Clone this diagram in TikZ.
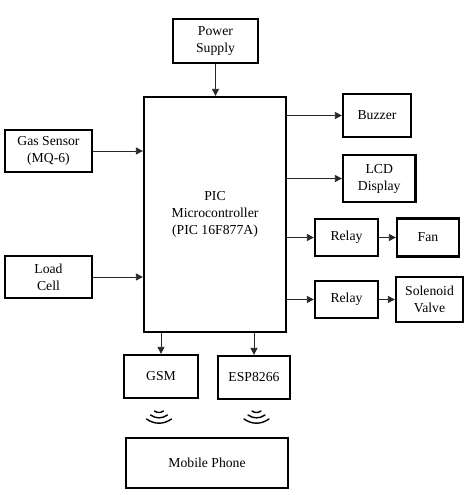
\documentclass[tikz,border=0pt]{standalone}
\usepackage{fontspec}
\setmainfont{Liberation Serif}
\usetikzlibrary{arrows.meta}

\tikzset{
	block/.style={draw,line width=1.3pt,align=center,inner sep=0pt,font=\fontsize{7.8}{9.7}\selectfont},
	conn/.style={-{Triangle[length=1.4mm,width=1.4mm]},line width=0.5pt,black!85},
	wave/.style={line width=0.8pt,line cap=round}
}

\begin{document}
\begin{tikzpicture}[x=1cm,y=1cm]
	\useasboundingbox (0,0) rectangle (9.48,9.9);

	% Controller and inputs
	\node[block,minimum width=2.84cm,minimum height=4.70cm] (pic) at (4.30,5.61) {PIC\\Microcontroller\\(PIC 16F877A)};
	\node[block,minimum width=1.70cm,minimum height=0.88cm] (power) at (4.31,9.08) {Power\\Supply};
	\node[block,minimum width=1.74cm,minimum height=0.84cm] (gas) at (0.97,6.88) {Gas Sensor\\(MQ-6)};
	\node[block,minimum width=1.74cm,minimum height=0.84cm] (load) at (0.97,4.36) {Load\\Cell};

	% Outputs
	\node[block,minimum width=1.36cm,minimum height=0.86cm] (buzzer) at (7.54,7.59) {Buzzer};
	\node[block,minimum width=1.45cm,minimum height=0.94cm] (lcd) at (7.585,6.33) {LCD\\Display};
	\node[block,minimum width=1.26cm,minimum height=0.74cm] (relayfan) at (6.93,5.15) {Relay};
	\node[block,minimum width=1.24cm,minimum height=0.76cm] (fan) at (8.56,5.15) {Fan};
	\node[block,minimum width=1.26cm,minimum height=0.74cm] (relayvalve) at (6.93,3.91) {Relay};
	\node[block,minimum width=1.34cm,minimum height=0.90cm] (valve) at (8.59,3.91) {Solenoid\\Valve};

	% Wireless part
	\node[block,minimum width=1.48cm,minimum height=0.86cm] (gsm) at (3.22,2.37) {GSM};
	\node[block,minimum width=1.44cm,minimum height=0.86cm] (esp) at (5.08,2.35) {ESP8266};
	\node[block,minimum width=3.24cm,minimum height=1.00cm] (phone) at (4.14,0.64) {Mobile Phone};

	\draw[conn] (power) -- (power |- pic.north);
	\draw[conn] (gas) -- (gas -| pic.west);
	\draw[conn] (load) -- (load -| pic.west);
	\draw[conn] (buzzer -| pic.east) -- (buzzer);
	\draw[conn] (lcd -| pic.east) -- (lcd);
	\draw[conn] (relayfan -| pic.east) -- (relayfan);
	\draw[conn] (relayvalve -| pic.east) -- (relayvalve);
	\draw[conn] (relayfan) -- (fan);
	\draw[conn] (relayvalve) -- (valve);
	\draw[conn] (gsm |- pic.south) -- (gsm);
	\draw[conn] (esp |- pic.south) -- (esp);

	% Radio waves
	\coordinate (gsmwave) at (3.18,1.55);
	\coordinate (espwave) at (5.13,1.55);
	\draw[wave] ([shift={(-0.09,0.13)}]gsmwave) to[bend right=35] ([shift={(0.09,0.13)}]gsmwave);
	\draw[wave] ([shift={(-0.17,0.05)}]gsmwave) to[bend right=35] ([shift={(0.17,0.05)}]gsmwave);
	\draw[wave] ([shift={(-0.25,-0.03)}]gsmwave) to[bend right=35] ([shift={(0.25,-0.03)}]gsmwave);
	\draw[wave] ([shift={(-0.09,0.13)}]espwave) to[bend right=35] ([shift={(0.09,0.13)}]espwave);
	\draw[wave] ([shift={(-0.17,0.05)}]espwave) to[bend right=35] ([shift={(0.17,0.05)}]espwave);
	\draw[wave] ([shift={(-0.25,-0.03)}]espwave) to[bend right=35] ([shift={(0.25,-0.03)}]espwave);
\end{tikzpicture}
\end{document}
